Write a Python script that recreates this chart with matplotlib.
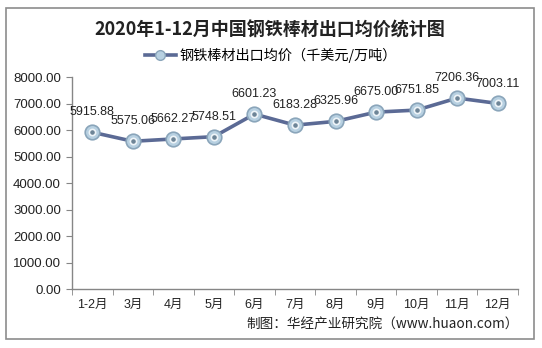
import matplotlib
matplotlib.use('Agg')
import matplotlib.pyplot as plt
from matplotlib.patches import Rectangle
from matplotlib.lines import Line2D

plt.rcParams['font.family'] = ['Liberation Sans', 'Noto Sans CJK SC', 'DejaVu Sans']

months = ['1-2月', '3月', '4月', '5月', '6月', '7月', '8月', '9月', '10月', '11月', '12月']
prices = [5915.88, 5575.06, 5662.27, 5748.51, 6601.23, 6183.28, 6325.96,
          6675.00, 6751.85, 7206.36, 7003.11]
yticks = [0, 1000, 2000, 3000, 4000, 5000, 6000, 7000, 8000]

title = '2020年1-12月中国钢铁棒材出口均价统计图'
series_name = '钢铁棒材出口均价（千美元/万吨）'
source = '制图：华经产业研究院（www.huaon.com）'

line_c = '#5B6A95'
axis_c = '#868686'

fig = plt.figure(figsize=(5.42, 3.48), dpi=100)
fig.patches.append(Rectangle((0.011, 0.026), 0.974, 0.951, transform=fig.transFigure,
                             fill=False, edgecolor='#8C8C8C', linewidth=1.2))

ax = fig.add_axes([0.1328, 0.1695, 0.8229, 0.6092])
x = list(range(len(months)))
ax.plot(x, prices, color=line_c, linewidth=2.6, zorder=2)
ax.plot(x, prices, linestyle='none', marker='o', markersize=10.5,
        markerfacecolor='#B7D0E1', markeredgecolor='#8AA5BA', markeredgewidth=1.2, zorder=3)
ax.plot(x, prices, linestyle='none', marker='o', markersize=4.5,
        markerfacecolor='#6E8597', markeredgecolor='#EEF4F8', markeredgewidth=1.2, zorder=4)

for xi, v in zip(x, prices):
    ax.annotate('%.2f' % v, (xi, v), xytext=(0, 10), textcoords='offset points',
                ha='center', va='bottom', fontsize=9, color='#222222', zorder=5)

ax.set_xlim(-0.5, len(months) - 0.5)
ax.set_ylim(0, 8000)
ax.set_yticks(yticks)
ax.set_yticklabels(['%.2f' % t for t in yticks])
ax.set_xticks(x)
ax.set_xticklabels(months)
ax.set_xticks([i - 0.5 for i in range(len(months) + 1)], minor=True)
ax.tick_params(axis='x', which='major', length=0, pad=7, labelsize=9, colors='#222222')
ax.tick_params(axis='x', which='minor', length=4, color=axis_c, direction='out')
ax.tick_params(axis='y', length=4, color=axis_c, labelsize=9.5, colors='#222222', pad=4)
ax.tick_params(axis='y', color=axis_c)
for s in ['top', 'right']:
    ax.spines[s].set_visible(False)
for s in ['left', 'bottom']:
    ax.spines[s].set_color(axis_c)
    ax.spines[s].set_linewidth(1.0)

fig.text(0.498, 0.913, title, ha='center', va='center', fontsize=13, fontweight='bold',
         family=['Noto Sans CJK SC', 'DejaVu Sans'], color='#222222')

handle = Line2D([], [], color=line_c, linewidth=2.6, marker='o', markersize=7,
                markerfacecolor='#B7D0E1', markeredgecolor='#8AA5BA')
fig.legend([handle], [series_name], loc='center', bbox_to_anchor=(0.5, 0.842),
           frameon=False, handlelength=2.2, handletextpad=0.3,
           prop={'family': ['Noto Sans CJK SC', 'DejaVu Sans'], 'size': 10.2})

fig.text(0.957, 0.068, source, ha='right', va='center', fontsize=9.8,
         family=['Noto Sans CJK SC', 'DejaVu Sans'], color='#222222')

fig.savefig('out.png', dpi=100)
